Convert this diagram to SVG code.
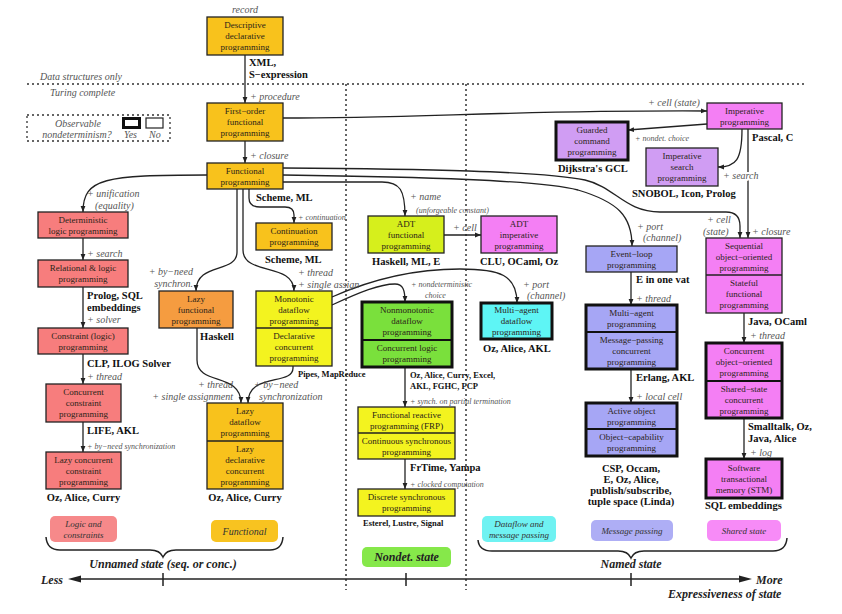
<svg xmlns="http://www.w3.org/2000/svg" width="842" height="614" viewBox="0 0 842 614">
<defs>
<marker id="ah" viewBox="0 0 10 10" refX="10" refY="5" markerWidth="6" markerHeight="6" orient="auto" markerUnits="userSpaceOnUse"><path d="M0,1 L10,5 L0,9 z" fill="#222"/></marker>
</defs>
<style>
.bx{stroke:#222;stroke-width:1.3}
.tk{stroke:#111;stroke-width:3}
.dv{stroke:#222;stroke-width:1.3}
.dvt{stroke:#111;stroke-width:2.2}
.gold{fill:#f8c21c}.orange{fill:#f59c40}.salmon{fill:#f77d7d}.yellow{fill:#f3f31f}.lime{fill:#d6ef1c}.green{fill:#7ae03c}.cyan{fill:#5ef5f5}.magenta{fill:#f47ff4}.violet{fill:#d09df3}.peri{fill:#a6a6f5}
text{font-family:"Liberation Serif","Times New Roman",serif}
.t{font-size:9px;fill:#2b2418;text-anchor:middle}
.b{font-size:10.5px;font-weight:bold;fill:#111}
.bs{font-size:8.5px;font-weight:bold;fill:#111}
.i{font-size:10px;font-style:italic;fill:#555}
.is{font-size:8px;font-style:italic;fill:#555}
.bi{font-size:12px;font-weight:bold;font-style:italic;fill:#222}
.lb{font-size:9px;font-style:italic;fill:#333;text-anchor:middle}
.m{text-anchor:middle}
.e{text-anchor:end}
.c{fill:none;stroke:#222;stroke-width:1.3}
.dot{fill:none;stroke:#333;stroke-width:1.5;stroke-dasharray:2 3}
.halo{paint-order:stroke;stroke:#fff;stroke-width:4px;stroke-linejoin:round}
</style>
<rect width="842" height="614" fill="#fff"/>

<g id="guides">
<path class="dot" d="M27,84 H805"/>
<path class="dot" d="M346,84 V590"/>
<path class="dot" d="M466,84 V590"/>
<text class="i" x="40" y="80">Data structures only</text>
<text class="i" x="50" y="96">Turing complete</text>
</g>

<g id="legend">
<rect x="27" y="115" width="143" height="26" fill="none" stroke="#333" stroke-width="1.3" stroke-dasharray="2 3"/>
<text class="i m" x="78" y="127">Observable</text>
<text class="i m" x="77" y="138">nondeterminism?</text>
<rect x="123.5" y="118.5" width="16" height="9" fill="#fff" stroke="#111" stroke-width="3"/>
<rect x="146" y="118" width="17" height="10" fill="#fff" stroke="#222" stroke-width="1.2"/>
<text class="i" x="124" y="138">Yes</text>
<text class="i" x="149" y="138">No</text>
</g>

<g id="connectors">
<path class="c" marker-end="url(#ah)" d="M245,55 V103"/>
<path class="c" marker-end="url(#ah)" d="M245,141 V163"/>
<path class="c" marker-end="url(#ah)" d="M283,118 C420,118 520,110 707,111"/>
<path class="c" marker-end="url(#ah)" d="M707,124 L628,130"/>
<path class="c" marker-end="url(#ah)" d="M742,129 C742,160 736,167 718,167"/>
<path class="c" marker-end="url(#ah)" d="M748,129 V238"/>
<path class="c" marker-end="url(#ah)" d="M207,175 C105,175 83,178 83,212"/>
<path class="c" marker-end="url(#ah)" d="M83,238 V260"/>
<path class="c" marker-end="url(#ah)" d="M83,287 V328"/>
<path class="c" marker-end="url(#ah)" d="M83,354 V384"/>
<path class="c" marker-end="url(#ah)" d="M83,422 V452"/>
<path class="c" marker-end="url(#ah)" d="M237,189 V252 C237,274 196,262 196,291"/>
<path class="c" marker-end="url(#ah)" d="M243,189 V250 C243,276 294,262 294,291"/>
<path class="c" marker-end="url(#ah)" d="M249,189 V198 Q249,207 260,207 L285,207 Q294,207 294,215 V223"/>
<path class="c" marker-end="url(#ah)" d="M197,328 V360 C197,386 241,372 241,403"/>
<path class="c" marker-end="url(#ah)" d="M293,366 V368 C293,386 248,372 248,403"/>
<path class="c" marker-end="url(#ah)" d="M283,182 L382,182 C400,182 405,190 405,216"/>
<path class="c" marker-end="url(#ah)" d="M283,175 C420,177 540,180 578,190 C618,202 632,216 632,246"/>
<path class="c" marker-end="url(#ah)" d="M283,168 C420,169 540,171 585,180 C615,187 625,212 660,212 L726,212 Q740,212 740,226 V238"/>
<path class="c" marker-end="url(#ah)" d="M444,235 H481"/>
<path class="c" marker-end="url(#ah)" d="M332,297 C370,280 410,269 460,269 C500,269 517,275 517,303"/>
<path class="c" marker-end="url(#ah)" d="M332,305 C360,292 380,284 395,284 C403,284 405,290 405,302"/>
<path class="c" marker-end="url(#ah)" d="M405,367 V407"/>
<path class="c" marker-end="url(#ah)" d="M405,459 V489"/>
<path class="c" marker-end="url(#ah)" d="M631,272 V305"/>
<path class="c" marker-end="url(#ah)" d="M631,369 V403"/>
<path class="c" marker-end="url(#ah)" d="M744,313 V343"/>
<path class="c" marker-end="url(#ah)" d="M744,418 V459"/>
</g>

<g id="n-descriptive">
<rect class="bx gold" x="207" y="17" width="76" height="38"/>
<text class="t" x="245" y="28">Descriptive</text><text class="t" x="245" y="39">declarative</text><text class="t" x="245" y="50">programming</text>
</g>
<g id="n-firstorder">
<rect class="bx gold" x="207" y="103" width="76" height="38"/>
<text class="t" x="245" y="114">First−order</text><text class="t" x="245" y="125">functional</text><text class="t" x="245" y="136">programming</text>
</g>
<g id="n-functional">
<rect class="bx gold" x="207" y="163" width="76" height="26"/>
<text class="t" x="245" y="173.5">Functional</text><text class="t" x="245" y="184.5">programming</text>
</g>
<g id="n-detlogic">
<rect class="bx salmon" x="38" y="212" width="90" height="26"/>
<text class="t" x="83" y="222.5">Deterministic</text><text class="t" x="83" y="233.5">logic programming</text>
</g>
<g id="n-relational">
<rect class="bx salmon" x="38" y="260" width="90" height="27"/>
<text class="t" x="83" y="271">Relational &amp; logic</text><text class="t" x="83" y="282">programming</text>
</g>
<g id="n-constraint">
<rect class="bx salmon" x="38" y="328" width="90" height="26"/>
<text class="t" x="83" y="338.5">Constraint (logic)</text><text class="t" x="83" y="349.5">programming</text>
</g>
<g id="n-concconstraint">
<rect class="bx salmon" x="46" y="384" width="75" height="38"/>
<text class="t" x="83.5" y="395">Concurrent</text><text class="t" x="83.5" y="406">constraint</text><text class="t" x="83.5" y="417">programming</text>
</g>
<g id="n-lazyconcconstraint">
<rect class="bx salmon" x="46" y="452" width="75" height="37"/>
<text class="t" x="83.5" y="462.5">Lazy concurrent</text><text class="t" x="83.5" y="473.5">constraint</text><text class="t" x="83.5" y="484.5">programming</text>
</g>
<g id="n-lazyfunctional">
<rect class="bx orange" x="159" y="291" width="74" height="37"/>
<text class="t" x="196" y="301.5">Lazy</text><text class="t" x="196" y="312.5">functional</text><text class="t" x="196" y="323.5">programming</text>
</g>
<g id="n-continuation">
<rect class="bx gold" x="256" y="223" width="76" height="27"/>
<text class="t" x="294" y="234">Continuation</text><text class="t" x="294" y="245">programming</text>
</g>
<g id="n-monotonic">
<rect class="bx yellow" x="256" y="291" width="76" height="75"/>
<line class="dv" x1="256" y1="328" x2="332" y2="328"/>
<text class="t" x="294" y="301.5">Monotonic</text><text class="t" x="294" y="312.5">dataflow</text><text class="t" x="294" y="323.5">programming</text>
<text class="t" x="294" y="339">Declarative</text><text class="t" x="294" y="350">concurrent</text><text class="t" x="294" y="361">programming</text>
</g>
<g id="n-lazydataflow">
<rect class="bx gold" x="207" y="403" width="76" height="86"/>
<line class="dv" x1="207" y1="441" x2="283" y2="441"/>
<text class="t" x="245" y="414">Lazy</text><text class="t" x="245" y="425">dataflow</text><text class="t" x="245" y="436">programming</text>
<text class="t" x="245" y="451.5">Lazy</text><text class="t" x="245" y="462.5">declarative</text><text class="t" x="245" y="473.5">concurrent</text><text class="t" x="245" y="484.5">programming</text>
</g>
<g id="n-adtfunctional">
<rect class="bx lime" x="368" y="216" width="76" height="37"/>
<text class="t" x="406" y="226.5">ADT</text><text class="t" x="406" y="237.5">functional</text><text class="t" x="406" y="248.5">programming</text>
</g>
<g id="n-adtimperative">
<rect class="bx magenta" x="481" y="216" width="76" height="37"/>
<text class="t" x="519" y="226.5">ADT</text><text class="t" x="519" y="237.5">imperative</text><text class="t" x="519" y="248.5">programming</text>
</g>
<g id="n-nonmonotonic">
<rect class="tk green" x="362" y="302" width="90" height="65"/>
<line class="dvt" x1="362" y1="340" x2="452" y2="340"/>
<text class="t" x="407" y="313">Nonmonotonic</text><text class="t" x="407" y="324">dataflow</text><text class="t" x="407" y="335">programming</text>
<text class="t" x="407" y="351">Concurrent logic</text><text class="t" x="407" y="362">programming</text>
</g>
<g id="n-multiagentdataflow">
<rect class="tk cyan" x="481" y="303" width="71" height="36"/>
<text class="t" x="516.5" y="313">Multi−agent</text><text class="t" x="516.5" y="324">dataflow</text><text class="t" x="516.5" y="335">programming</text>
</g>
<g id="n-frp">
<rect class="bx yellow" x="358" y="407" width="97" height="52"/>
<line class="dv" x1="358" y1="433" x2="455" y2="433"/>
<text class="t" x="406.5" y="417.5">Functional reactive</text><text class="t" x="406.5" y="428.5">programming (FRP)</text>
<text class="t" x="406.5" y="443.5">Continuous synchronous</text><text class="t" x="406.5" y="454.5">programming</text>
</g>
<g id="n-discrete">
<rect class="bx yellow" x="358" y="489" width="97" height="27"/>
<text class="t" x="406.5" y="500">Discrete synchronous</text><text class="t" x="406.5" y="511">programming</text>
</g>
<g id="n-imperative">
<rect class="bx magenta" x="707" y="103" width="75" height="26"/>
<text class="t" x="744.5" y="113.5">Imperative</text><text class="t" x="744.5" y="124.5">programming</text>
</g>
<g id="n-guarded">
<rect class="tk violet" x="556" y="122" width="72" height="38"/>
<text class="t" x="592" y="133">Guarded</text><text class="t" x="592" y="144">command</text><text class="t" x="592" y="155">programming</text>
</g>
<g id="n-impsearch">
<rect class="bx violet" x="646" y="148" width="72" height="38"/>
<text class="t" x="682" y="159">Imperative</text><text class="t" x="682" y="170">search</text><text class="t" x="682" y="181">programming</text>
</g>
<g id="n-eventloop">
<rect class="bx peri" x="586" y="246" width="91" height="26"/>
<text class="t" x="631.5" y="256.5">Event−loop</text><text class="t" x="631.5" y="267.5">programming</text>
</g>
<g id="n-multiagent">
<rect class="tk peri" x="586" y="305" width="91" height="64"/>
<line class="dvt" x1="586" y1="332" x2="677" y2="332"/>
<text class="t" x="631.5" y="316">Multi−agent</text><text class="t" x="631.5" y="327">programming</text>
<text class="t" x="631.5" y="342.5">Message−passing</text><text class="t" x="631.5" y="353.5">concurrent</text><text class="t" x="631.5" y="364.5">programming</text>
</g>
<g id="n-activeobject">
<rect class="tk peri" x="586" y="403" width="91" height="53"/>
<line class="dvt" x1="586" y1="429" x2="677" y2="429"/>
<text class="t" x="631.5" y="413.5">Active object</text><text class="t" x="631.5" y="424.5">programming</text>
<text class="t" x="631.5" y="440">Object−capability</text><text class="t" x="631.5" y="451">programming</text>
</g>
<g id="n-sequentialoo">
<rect class="bx magenta" x="706" y="238" width="76" height="75"/>
<line class="dv" x1="706" y1="275" x2="782" y2="275"/>
<text class="t" x="744" y="248.5">Sequential</text><text class="t" x="744" y="259.5">object−oriented</text><text class="t" x="744" y="270.5">programming</text>
<text class="t" x="744" y="286">Stateful</text><text class="t" x="744" y="297">functional</text><text class="t" x="744" y="308">programming</text>
</g>
<g id="n-concurrentoo">
<rect class="tk magenta" x="706" y="343" width="76" height="75"/>
<line class="dvt" x1="706" y1="381" x2="782" y2="381"/>
<text class="t" x="744" y="354">Concurrent</text><text class="t" x="744" y="365">object−oriented</text><text class="t" x="744" y="376">programming</text>
<text class="t" x="744" y="391.5">Shared−state</text><text class="t" x="744" y="402.5">concurrent</text><text class="t" x="744" y="413.5">programming</text>
</g>
<g id="n-stm">
<rect class="tk magenta" x="706" y="459" width="76" height="39"/>
<text class="t" x="744" y="470.5">Software</text><text class="t" x="744" y="481.5">transactional</text><text class="t" x="744" y="492.5">memory (STM)</text>
</g>

<g id="labels">
<text class="i m" x="245" y="13">record</text>
<text class="b" x="249" y="66">XML,</text>
<text class="b" x="249" y="78">S−expression</text>
<text class="i" x="250" y="100">+ procedure</text>
<text class="i" x="250" y="159">+ closure</text>
<text class="b" x="256" y="201">Scheme, ML</text>
<text class="i" x="87" y="197">+ unification</text>
<text class="i" x="95" y="209">(equality)</text>
<text class="i" x="87" y="257">+ search</text>
<text class="b" x="87" y="299">Prolog, SQL</text>
<text class="b" x="87" y="311">embeddings</text>
<text class="i" x="87" y="323">+ solver</text>
<text class="b" x="87" y="367">CLP, ILOG Solver</text>
<text class="i" x="87" y="380">+ thread</text>
<text class="b" x="87" y="434">LIFE, AKL</text>
<text class="is" x="87" y="449">+ by−need synchronization</text>
<text class="b m" x="83.5" y="501">Oz, Alice, Curry</text>
<text class="i e" x="193" y="275">+ by−need</text>
<text class="i e" x="193" y="287">synchron.</text>
<text class="b" x="200" y="340">Haskell</text>
<text class="is" x="298" y="220">+ continuation</text>
<text class="b" x="265" y="263">Scheme, ML</text>
<text class="i" x="298" y="276">+ thread</text>
<text class="i" x="298" y="288">+ single assign</text>
<text class="bs" x="298" y="377">Pipes, MapReduce</text>
<text class="i e" x="233" y="388">+ thread</text>
<text class="i e" x="233" y="400">+ single assignment</text>
<text class="i" x="254" y="388">+ by−need</text>
<text class="i" x="259" y="400">synchronization</text>
<text class="b m" x="245" y="501">Oz, Alice, Curry</text>
<text class="i" x="410" y="200">+ name</text>
<text class="is" x="416" y="213">(unforgeable constant)</text>
<text class="b" x="372" y="265">Haskell, ML, E</text>
<text class="i" x="453" y="231">+ cell</text>
<text class="b" x="480" y="265">CLU, OCaml, Oz</text>
<text class="is" x="411" y="287">+ nondeterministic</text>
<text class="is" x="425" y="298">choice</text>
<text class="i" x="523" y="288">+ port</text>
<text class="i" x="527" y="299">(channel)</text>
<text class="b" x="483" y="352">Oz, Alice, AKL</text>
<text class="bs" x="410" y="378">Oz, Alice, Curry, Excel,</text>
<text class="bs" x="410" y="389">AKL, FGHC, FCP</text>
<text class="is" x="410" y="404">+ synch. on partial termination</text>
<text class="b" x="410" y="471">FrTime, Yampa</text>
<text class="is" x="410" y="487">+ clocked computation</text>
<text class="bs" x="363" y="526">Esterel, Lustre, Signal</text>
<text class="i" x="648" y="106">+ cell (state)</text>
<text class="is" x="635" y="141">+ nondet. choice</text>
<text class="b" x="752" y="141">Pascal, C</text>
<text class="b" x="558" y="172">Dijkstra's GCL</text>
<text class="b" x="632" y="197">SNOBOL, Icon, Prolog</text>
<text class="i halo" x="723" y="179">+ search</text>
<text class="i" x="707" y="223">+ cell</text>
<text class="i" x="703" y="235">(state)</text>
<text class="i" x="752" y="235">+ closure</text>
<text class="i" x="637" y="230">+ port</text>
<text class="i" x="643" y="241">(channel)</text>
<text class="b" x="636" y="283">E in one vat</text>
<text class="i" x="636" y="302">+ thread</text>
<text class="b" x="636" y="381">Erlang, AKL</text>
<text class="i" x="636" y="400">+ local cell</text>
<text class="b m" x="631" y="472">CSP, Occam,</text>
<text class="b m" x="631" y="483">E, Oz, Alice,</text>
<text class="b m" x="631" y="494">publish/subscribe,</text>
<text class="b m" x="631" y="505">tuple space (Linda)</text>
<text class="b" x="748" y="325">Java, OCaml</text>
<text class="i" x="750" y="339">+ thread</text>
<text class="b" x="748" y="430">Smalltalk, Oz,</text>
<text class="b" x="748" y="442">Java, Alice</text>
<text class="i" x="750" y="456">+ log</text>
<text class="b" x="705" y="509">SQL embeddings</text>
</g>

<g id="categories">
<rect x="50" y="516" width="67" height="26" rx="5" fill="#f6898a"/>
<text class="lb" x="83.5" y="527">Logic and</text><text class="lb" x="83.5" y="538">constraints</text>
<rect x="211" y="520" width="67" height="22" rx="5" fill="#f8c320"/>
<text class="lb" x="244.5" y="535" style="font-size:10px">Functional</text>
<rect x="362" y="547" width="89" height="20" rx="5" fill="#86e84a"/>
<text class="bi m" x="406.5" y="561">Nondet. state</text>
<rect x="482" y="516" width="74" height="26" rx="5" fill="#6ff2f2"/>
<text class="lb" x="519" y="527">Dataflow and</text><text class="lb" x="519" y="538">message passing</text>
<rect x="591" y="520" width="82" height="21" rx="5" fill="#aeaef5"/>
<text class="lb" x="632" y="534">Message passing</text>
<rect x="707" y="520" width="74" height="21" rx="5" fill="#f78bf7"/>
<text class="lb" x="744" y="534">Shared state</text>
<path fill="none" stroke="#222" stroke-width="1.5" d="M46,537 Q47,550 60,550 L150,550 Q160,550 163,557 Q166,550 176,550 L270,550 Q282,550 283,537"/>
<text class="bi m" x="163" y="568">Unnamed state (seq. or conc.)</text>
<path fill="none" stroke="#222" stroke-width="1.5" d="M478,540 Q479,551 492,551 L618,551 Q628,551 631,558 Q634,551 644,551 L773,551 Q786,551 787,538"/>
<text class="bi m" x="631" y="568">Named state</text>
</g>

<g id="axis">
<path fill="none" stroke="#222" stroke-width="1.5" d="M80,579 H740"/>
<path d="M68,579 L81,575.5 L81,582.5 z" fill="#222"/>
<path d="M752,579 L739,575.5 L739,582.5 z" fill="#222"/>
<path stroke="#222" stroke-width="1.5" d="M163,573 V586 M406,573 V586 M631,573 V586"/>
<text class="bi" x="41" y="584">Less</text>
<text class="bi" x="756" y="584">More</text>
<text class="bi" x="668" y="598">Expressiveness of state</text>
</g>
</svg>
